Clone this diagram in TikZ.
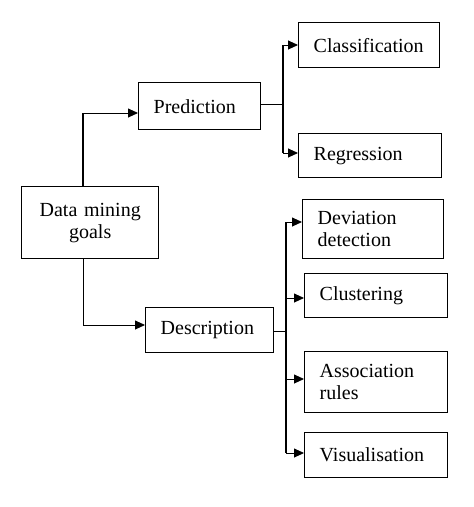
\documentclass[tikz,border=0pt]{standalone}
\usepackage{fontspec}
\setmainfont{Liberation Serif}
\usetikzlibrary{arrows.meta}
\begin{document}
\begin{tikzpicture}[x=1pt,y=-1pt,
  box/.style={draw, line width=1.4pt, inner xsep=15pt, inner ysep=0pt,
    align=left, anchor=north west, font=\fontsize{20}{22}\selectfont},
  cbox/.style={box, align=center, inner xsep=0pt},
  arr/.style={-{Triangle[length=10pt,width=9pt]}, line width=0.9pt},
  thinline/.style={line width=0.9pt},
  barline/.style={line width=1.5pt}]
\useasboundingbox (0,0) rectangle (474,507);
\fill[white] (0,0) rectangle (474,507);
% nodes
\node[cbox, text width=137pt, minimum height=72pt] (goals) at (21,186) {Data mining\\goals};
\node[box, text width=92pt, minimum height=47pt] (pred) at (138,82) {Prediction};
\node[box, text width=111pt, minimum height=45pt] (class) at (298,22) {Classification};
\node[box, text width=113pt, minimum height=44pt] (regr) at (298,133) {Regression};
\node[box, text width=98pt, minimum height=45pt] (desc) at (145,307) {Description};
\node[box, text width=111pt, minimum height=59pt] (dev) at (302,199) {Deviation\\detection\\[4pt]};
\node[box, text width=113pt, minimum height=44pt] (clus) at (304,273) {Clustering};
\node[box, text width=113pt, minimum height=61pt] (assoc) at (304,351) {Association\\rules};
\node[box, text width=113pt, minimum height=45pt] (vis) at (304,432) {Visualisation};
% helper coordinates
\coordinate (gt) at (83,186);
\coordinate (gp) at (83,113);
\coordinate (gb) at (83,258);
\coordinate (gd) at (83,325);
\coordinate (pr) at (283,104);
\coordinate (p1) at (283,45);
\coordinate (p2) at (283,153);
\coordinate (dr) at (286,331);
\coordinate (d1) at (286,222);
\coordinate (d2) at (286,298);
\coordinate (d3) at (286,379);
\coordinate (d4) at (286,453);
% goals -> prediction / description
\draw[barline] (gt) -- (gp);
\draw[arr] (gp) -- (gp -| pred.west);
\draw[thinline] (gb) -- (gd);
\draw[arr] (gd) -- (gd -| desc.west);
% prediction branch
\draw[thinline] (pr -| pred.east) -- (pr);
\draw[barline] (p1) -- (p2);
\draw[arr] (p1) -- (p1 -| class.west);
\draw[arr] (p2) -- (p2 -| regr.west);
% description branch
\draw[thinline] (dr -| desc.east) -- (dr);
\draw[barline] (d1) -- (d4);
\draw[arr] (d1) -- (d1 -| dev.west);
\draw[arr] (d2) -- (d2 -| clus.west);
\draw[arr] (d3) -- (d3 -| assoc.west);
\draw[arr] (d4) -- (d4 -| vis.west);
\end{tikzpicture}
\end{document}
